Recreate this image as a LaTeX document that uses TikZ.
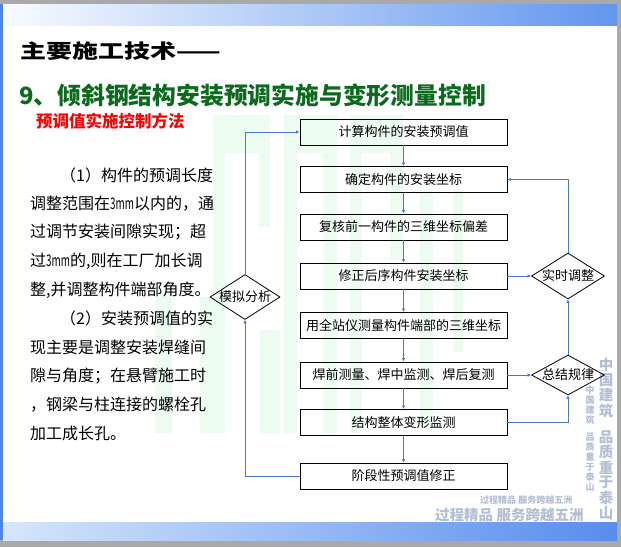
\documentclass[tikz,border=0pt]{standalone}
\usepackage{fontspec}
\usepackage{graphicx}
\setmainfont{Noto Sans CJK SC}
\usetikzlibrary{shapes.geometric,arrows.meta}
\definecolor{connc}{HTML}{4A78C8}
\definecolor{mint}{HTML}{EDFCF1}
\definecolor{wm}{HTML}{B3BFD3}
\definecolor{subg}{HTML}{0B6B1C}
\definecolor{graybg}{HTML}{A9A9A9}
\definecolor{lstrip}{HTML}{4F84EC}
\newcommand{\boxfont}{\fontsize{13}{13}\selectfont}
\newcommand{\parafont}{\fontsize{16}{16}\selectfont}
\begin{document}
\begin{tikzpicture}[x=1pt,y=-1pt,
  stepbox/.style={draw=black,line width=0.9pt,minimum width=207pt,minimum height=26pt,inner sep=0pt,font=\boxfont},
  dia/.style={diamond,draw=black,line width=0.8pt,inner sep=0pt},
  dlab/.style={inner sep=0pt,font=\boxfont},
  link/.style={draw=connc,line width=0.9pt,-{Latex[length=3.5pt,width=3.5pt]}},
  para/.style={anchor=west,inner sep=0pt,font=\parafont},
  wmbig/.style={inner sep=0pt,text=wm,font=\fontsize{14.5}{14.5}\selectfont\bfseries},
  wmsmall/.style={inner sep=0pt,text=wm,font=\fontsize{9}{9}\selectfont\bfseries}]
\useasboundingbox (0,0) rectangle (621,547);
% frame and bands
\fill[graybg] (0,0) rectangle (621,547);
\fill[white] (3,4) rectangle (617,540);
\fill[lstrip] (0,4) rectangle (3,540);
\shade[left color={rgb,255:red,248;green,251;blue,255}, right color={rgb,255:red,98;green,150;blue,238}] (3,4) rectangle (617,25);
\shade[left color={rgb,255:red,214;green,230;blue,251}, right color={rgb,255:red,88;green,140;blue,238}] (3,522) rectangle (617,540);
% faint logo watermark
\fill[mint] (213,115) rectangle (270,153);
\fill[mint] (213,153) rectangle (225,433);
\fill[mint] (259,153) rectangle (270,227);
\fill[mint] (155,293) rectangle (172,433);
\fill[mint] (200,297) rectangle (213,433);
\fill[mint] (260,330) rectangle (280,433);
\fill[mint] (284,115) rectangle (337,153);
\fill[mint] (284,153) rectangle (297,433);
\fill[mint] (323,153) rectangle (337,433);
\fill[mint] (350,115) rectangle (403,153);
\fill[mint] (350,153) rectangle (362,433);
\fill[mint] (390,153) rectangle (403,260);
\fill[mint] (420,190) rectangle (433,427);
\fill[mint] (453,190) rectangle (463,352);
% right/bottom watermark texts
\node[wmbig,anchor=west] (wh1) at (435,515) {过程精品 服务跨越五洲};
\node[wmsmall,anchor=west] (wh2) at (480,500) {过程精品 服务跨越五洲};
\foreach \c [count=\i] in {中,国,建,筑} \node[wmbig] (wva\i) at (606,349.8+15.2*\i) {\c};
\foreach \c [count=\i] in {品,质,重,于,泰,山} \node[wmbig] (wvb\i) at (606,421.8+15.2*\i) {\c};
\foreach \c [count=\i] in {中,国,建,筑} \node[wmsmall] (wsa\i) at (590,380+10*\i) {\c};
\foreach \c [count=\i] in {品,质,重,于,泰,山} \node[wmsmall] (wsb\i) at (590,427+10*\i) {\c};
% titles
\node[anchor=west,inner sep=0pt,font=\fontsize{26}{26}\selectfont\bfseries] (title) at (20,51) {\scalebox{1}[0.75]{主要施工技术——}};
\node[anchor=west,inner sep=0pt,text=subg,font=\fontsize{23.8}{23.8}\selectfont\bfseries] (sub) at (19,95) {9、倾斜钢结构安装预调实施与变形测量控制};
\node[anchor=west,inner sep=0pt,text=red,font=\fontsize{16.5}{16.5}\selectfont\bfseries] (red) at (36,121) {预调值实施控制方法};
% paragraph
\node[para] (p1) at (60,175) {（1）构件的预调长度};
\node[para] (p2) at (30,203.7) {调整范围在\scalebox{0.62}[1]{3mm}以内的，通};
\node[para] (p3) at (30,232.4) {过调节安装间隙实现；超};
\node[para] (p4) at (30,261.1) {过\scalebox{0.62}[1]{3mm}的,则在工厂加长调};
\node[para] (p5) at (30,289.8) {整,并调整构件端部角度。};
\node[para] (p6) at (60,318.5) {（2）安装预调值的实};
\node[para] (p7) at (30,347.2) {现主要是调整安装焊缝间};
\node[para] (p8) at (30,375.9) {隙与角度；在悬臂施工时};
\node[para] (p9) at (30,404.6) {，钢梁与柱连接的螺栓孔};
\node[para] (p10) at (30,433.3) {加工成长孔。};
% flow boxes
\node[stepbox] (b1) at (403.5,132) {计算构件的安装预调值};
\node[stepbox] (b2) at (403.5,179.5) {确定构件的安装坐标};
\node[stepbox] (b3) at (403.5,227) {复核前一构件的三维坐标偏差};
\node[stepbox] (b4) at (403.5,276) {修正后序构件安装坐标};
\node[stepbox] (b5) at (403.5,325.5) {用全站仪测量构件端部的三维坐标};
\node[stepbox] (b6) at (403.5,375) {焊前测量、焊中监测、焊后复测};
\node[stepbox] (b7) at (403.5,422.5) {结构整体变形监测};
\node[stepbox] (b8) at (403.5,476) {阶段性预调值修正};
% diamonds
\node[dia,minimum width=73pt,minimum height=46pt] (d1) at (568,276) {};
\node[dlab] (d1t) at (d1.center) {实时调整};
\node[dia,minimum width=73pt,minimum height=40pt] (d2) at (568,375) {};
\node[dlab] (d2t) at (d2.center) {总结规律};
\node[dia,minimum width=70pt,minimum height=45pt] (d3) at (245,297) {};
\node[dlab] (d3t) at (d3.center) {模拟分析};
% connectors
\foreach \a/\b in {b1/b2,b2/b3,b3/b4,b4/b5,b5/b6,b6/b7,b7/b8} \draw[link] (\a) -- (\b);
\draw[link] (b4) -- (d1);
\draw[link] (d1.north) |- (b2.east);
\draw[link] (d2) -- (d1);
\draw[link] (b6) -- (d2);
\draw[link] (b7.east) -| (d2.south);
\draw[link] (b8.west) -| (d3.south);
\draw[link] (d3.north) |- (b1.west);
\end{tikzpicture}
\end{document}
